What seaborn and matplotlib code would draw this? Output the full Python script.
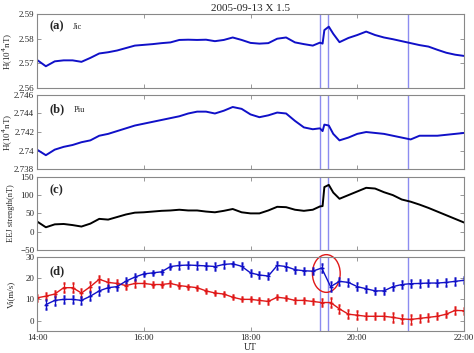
import numpy as np
import pandas as pd
import matplotlib
matplotlib.use('Agg')
import matplotlib.pyplot as plt
import seaborn as sns
from matplotlib.patches import Ellipse

# data
times = ['14:00', '14:10', '14:20', '14:30', '14:40', '14:50', '15:00', '15:10', '15:20', '15:30',
         '15:40', '15:50', '16:00', '16:10', '16:20', '16:30', '16:40', '16:50', '17:00', '17:10',
         '17:20', '17:30', '17:40', '17:50', '18:00', '18:10', '18:20', '18:30', '18:40', '18:50',
         '19:00', '19:10', '19:18', '19:21', '19:23', '19:28', '19:33', '19:40', '19:50', '20:00',
         '20:10', '20:20', '20:30', '20:40', '20:50', '21:00', '21:10', '21:20', '21:30', '21:40',
         '21:50', '22:00']
h_jic = [2.5714, 2.5688, 2.5708, 2.5712, 2.5712, 2.5706, 2.5722, 2.5740, 2.5745, 2.5752,
         2.5762, 2.5772, 2.5775, 2.5778, 2.5782, 2.5785, 2.5795, 2.5796, 2.5795, 2.5796,
         2.5790, 2.5795, 2.5805, 2.5795, 2.5783, 2.5780, 2.5782, 2.5800, 2.5805, 2.5785,
         2.5778, 2.5772, 2.5784, 2.5780, 2.5835, 2.5849, 2.5820, 2.5786, 2.5803, 2.5815,
         2.5829, 2.5815, 2.5805, 2.5798, 2.5790, 2.5782, 2.5774, 2.5768, 2.5755, 2.5743,
         2.5735, 2.5730]
h_piu = [2.7401, 2.7395, 2.7401, 2.7404, 2.7406, 2.7409, 2.7411, 2.7416, 2.7418, 2.7421,
         2.7424, 2.7427, 2.7429, 2.7431, 2.7433, 2.7435, 2.7437, 2.7440, 2.7442, 2.7442,
         2.7440, 2.7443, 2.7447, 2.7445, 2.7439, 2.7436, 2.7438, 2.7441, 2.7440, 2.7432,
         2.7425, 2.7423, 2.7424, 2.7421, 2.7428, 2.7427, 2.7418, 2.7411, 2.7414, 2.7418,
         2.7420, 2.7419, 2.7418, 2.7416, 2.7414, 2.7412, 2.7416, 2.7416, 2.7416, 2.7417,
         2.7418, 2.7419]
eej = [28, 12, 20, 21, 18, 14, 22, 35, 33, 40,
       47, 52, 53, 55, 57, 58, 60, 58, 58, 55,
       53, 57, 62, 53, 50, 50, 58, 68, 67, 60,
       57, 60, 69, 70, 122, 128, 107, 90, 100, 110,
       120, 118, 108, 100, 88, 82, 74, 65, 55, 45,
       35, 25]

vi_times = ['14:00', '14:10', '14:20', '14:30', '14:40', '14:50', '15:00', '15:10', '15:20', '15:30',
            '15:40', '15:50', '16:00', '16:10', '16:20', '16:30', '16:40', '16:50', '17:00', '17:10',
            '17:20', '17:30', '17:40', '17:50', '18:00', '18:10', '18:20', '18:30', '18:40', '18:50',
            '19:00', '19:10', '19:20', '19:30', '19:40', '19:50', '20:00', '20:10', '20:20', '20:30',
            '20:40', '20:50', '21:00', '21:10', '21:20', '21:30', '21:40', '21:50', '22:00']
vi_red = [10.7, 11.5, 12.5, 15.5, 15.5, 13, 16, 19.5, 18, 17.5,
          16.5, 17.5, 17.5, 17, 17, 17.5, 16.5, 16, 15.5, 14,
          13, 12.5, 11, 10, 10, 9.5, 9, 11, 10.5, 9.5,
          9.5, 9, 8.5, 8.5, 5.5, 3, 2.5, 2, 2, 2,
          1.5, 0.8, 0.5, 1, 1.5, 2, 3, 4.8, 4.6]
vi_blue = [np.nan, 7.5, 9.5, 10, 10, 9.5, 11.5, 14, 15.5, 16,
           18.6, 20.5, 22, 22.5, 23, 25.5, 26, 26.2, 26, 25.8,
           25.5, 26.5, 26.8, 25.6, 22.5, 21.5, 21, 26, 25.5, 24,
           23.5, 23.3, 24.8, 16, 18.5, 18, 16, 15, 14, 14,
           16, 17, 17.4, 17.5, 17.7, 17.7, 18, 18.5, 19]
err_red = [1.5, 1.5, 1.5, 2, 2, 2, 2, 1.5, 1.5, 1.5,
           1.5, 1.5, 1, 1, 1, 1, 1, 1, 1, 1,
           1, 1, 1, 1, 1, 1, 1, 1, 1, 1,
           1, 1, 1.5, 2, 2, 2, 2, 1.5, 1.5, 1.5,
           2, 2, 2, 1.5, 1.5, 1.5, 1.5, 1.5, 1.5]
err_blue = [np.nan, 2, 2, 1.5, 1.5, 1.5, 2, 2, 1.5, 1.5,
            1.5, 1.5, 1, 1, 1, 1, 1.5, 1.5, 1.5, 1.5,
            1.5, 1.5, 1, 1.5, 1.5, 1.5, 1.5, 1.5, 1.5, 1.5,
            1.5, 1.5, 2, 2, 1.5, 1.5, 1.5, 1.5, 1.5, 1.5,
            1.5, 1.5, 1.5, 1.5, 1.5, 1.5, 1.5, 1.5, 1.5]

event_times = ['19:18', '19:27', '20:57']


def to_hours(tlist):
    t = pd.to_datetime(tlist, format='%H:%M')
    return t.hour + t.minute / 60.0


df = pd.DataFrame({'t': to_hours(times), 'jic': h_jic, 'piu': h_piu, 'eej': eej})
dv = pd.DataFrame({'t': to_hours(vi_times), 'red': vi_red, 'blue': vi_blue,
                   'ered': err_red, 'eblue': err_blue})
ev = to_hours(event_times)

sns.set_style('ticks')
plt.rcParams['font.family'] = ['Liberation Serif', 'DejaVu Serif']
plt.rcParams['xtick.direction'] = 'in'
plt.rcParams['ytick.direction'] = 'in'

blue = '#1010c8'
red = '#e01818'
evc = '#8c8cf0'
frame = '#888888'

fig = plt.figure(figsize=(4.74, 3.53), dpi=100)
rects = [[0.078, 0.751, 0.901, 0.209],
         [0.078, 0.521, 0.901, 0.210],
         [0.078, 0.292, 0.901, 0.207],
         [0.078, 0.062, 0.901, 0.210]]
axs = [fig.add_axes(r) for r in rects]

# (a) Jic
sns.lineplot(x='t', y='jic', data=df, ax=axs[0], color=blue, lw=1.4)
axs[0].set_ylim(2.56, 2.59)
axs[0].set_yticks([2.56, 2.57, 2.58, 2.59])
axs[0].set_yticklabels(['2.56', '2.57', '2.58', '2.59'])
axs[0].set_ylabel('H(10$^4$nT)', fontsize=6.5)
axs[0].text(0.03, 0.8, '(a)', transform=axs[0].transAxes, fontsize=9, fontweight='bold')
axs[0].text(0.085, 0.8, 'Jic', transform=axs[0].transAxes, fontsize=6)
axs[0].set_title('2005-09-13 X 1.5', fontsize=8, pad=2)

# (b) Piu
sns.lineplot(x='t', y='piu', data=df, ax=axs[1], color=blue, lw=1.4)
axs[1].set_ylim(2.738, 2.746)
axs[1].set_yticks([2.738, 2.74, 2.742, 2.744, 2.746])
axs[1].set_yticklabels(['2.738', '2.74', '2.742', '2.744', '2.746'])
axs[1].set_ylabel('H(10$^4$nT)', fontsize=6.5)
axs[1].text(0.03, 0.77, '(b)', transform=axs[1].transAxes, fontsize=9, fontweight='bold')
axs[1].text(0.085, 0.77, 'Piu', transform=axs[1].transAxes, fontsize=6)

# (c) EEJ
sns.lineplot(x='t', y='eej', data=df, ax=axs[2], color='black', lw=1.4)
axs[2].set_ylim(-50, 150)
axs[2].set_yticks([-50, 0, 50, 100, 150])
axs[2].set_ylabel('EEJ strength(nT)', fontsize=6)
axs[2].text(0.03, 0.77, '(c)', transform=axs[2].transAxes, fontsize=9, fontweight='bold')

# (d) Vi
axs[3].errorbar(dv['t'], dv['red'], yerr=dv['ered'], color=red, lw=1.0, marker='+', ms=3.5,
                elinewidth=0.9, capsize=0.8, capthick=1.8, ls='none')
axs[3].errorbar(dv['t'], dv['blue'], yerr=dv['eblue'], color=blue, lw=1.0, marker='+', ms=3.5,
                elinewidth=0.9, capsize=0.8, capthick=1.8, ls='none')
sns.lineplot(x='t', y='red', data=dv, ax=axs[3], color=red, lw=1.0)
sns.lineplot(x='t', y='blue', data=dv, ax=axs[3], color=blue, lw=1.0)
axs[3].set_ylim(-5, 30)
axs[3].set_yticks([0, 10, 20, 30])
axs[3].set_ylabel('Vi(m/s)', fontsize=6.5)
axs[3].text(0.03, 0.77, '(d)', transform=axs[3].transAxes, fontsize=9, fontweight='bold')
axs[3].add_patch(Ellipse((19.42, 22.2), 0.52, 17.8, fill=False, ec=red, lw=1.0, clip_on=False))
axs[3].set_xlabel('UT', fontsize=7, labelpad=1)

for i, ax in enumerate(axs):
    for x in ev:
        ax.axvline(x, color=evc, lw=1.0, zorder=0)
    ax.set_xlim(14, 22)
    ax.set_xticks([14, 16, 18, 20, 22])
    if i < 3:
        ax.set_xticklabels([])
        ax.set_xlabel('')
    else:
        ax.set_xticklabels(['14:00', '16:00', '18:00', '20:00', '22:00'])
    ax.tick_params(labelsize=6.5, length=3, width=0.6, color=frame, top=True, right=True, pad=2)
    ax.yaxis.set_label_coords(-0.052, 0.5)
    for s in ax.spines.values():
        s.set_color(frame)
        s.set_linewidth(0.8)

fig.savefig('out.png', dpi=100)
